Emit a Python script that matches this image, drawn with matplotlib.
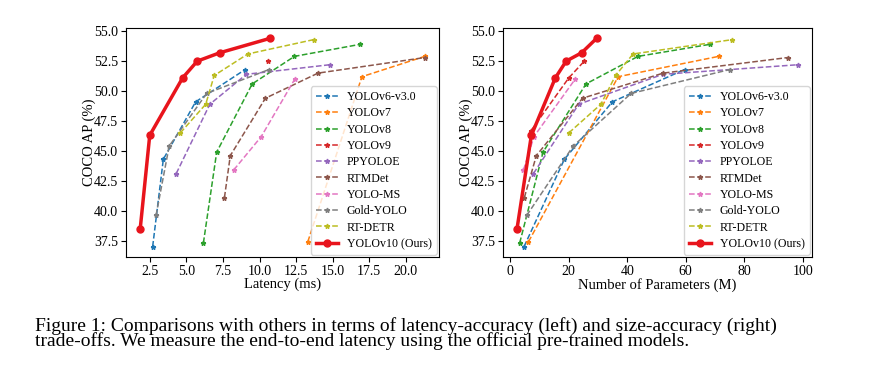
"""
YOLOv10 comparison figure: latency-accuracy and size-accuracy trade-offs.
"""
import matplotlib
matplotlib.use("Agg")
import matplotlib.pyplot as plt

plt.rcParams['font.family'] = ['Liberation Serif', 'DejaVu Serif']

# model names in legend order
MODELS = ['YOLOv6-v3.0', 'YOLOv7', 'YOLOv8', 'YOLOv9', 'PPYOLOE',
          'RTMDet', 'YOLO-MS', 'Gold-YOLO', 'RT-DETR', 'YOLOv10 (Ours)']

# COCO AP (%) per model scale
AP = {
    'YOLOv6-v3.0': [37.0, 44.3, 49.1, 51.8],
    'YOLOv7': [37.4, 51.2, 52.9],
    'YOLOv8': [37.3, 44.9, 50.6, 52.9, 53.9],
    'YOLOv9': [46.7, 51.1, 52.5],
    'PPYOLOE': [43.1, 48.9, 51.4, 52.2],
    'RTMDet': [41.1, 44.6, 49.4, 51.5, 52.8],
    'YOLO-MS': [43.4, 46.2, 51.0],
    'Gold-YOLO': [39.6, 45.4, 49.8, 51.8],
    'RT-DETR': [46.5, 48.9, 51.3, 53.1, 54.3],
    'YOLOv10 (Ours)': [38.5, 46.3, 51.1, 52.5, 53.2, 54.4],
}

# end-to-end latency (ms); YOLOv9 only has the C model in the left plot
LATENCY = {
    'YOLOv6-v3.0': [2.69, 3.42, 5.63, 9.02],
    'YOLOv7': [13.3, 17.0, 21.3],
    'YOLOv8': [6.16, 7.07, 9.50, 12.39, 16.86],
    'YOLOv9': [10.57],
    'PPYOLOE': [4.3, 6.6, 9.1, 14.8],
    'RTMDet': [7.6, 8.0, 10.4, 14.0, 21.3],
    'YOLO-MS': [8.23, 10.12, 12.41],
    'Gold-YOLO': [2.92, 3.82, 6.38, 10.65],
    'RT-DETR': [4.58, 6.32, 6.90, 9.20, 13.71],
    'YOLOv10 (Ours)': [1.84, 2.49, 4.74, 5.74, 7.28, 10.70],
}
LATENCY_AP_YOLOV9 = [52.5]

# number of parameters (M)
PARAMS = {
    'YOLOv6-v3.0': [4.7, 18.5, 34.9, 59.6],
    'YOLOv7': [6.2, 36.9, 71.3],
    'YOLOv8': [3.2, 11.2, 25.9, 43.7, 68.2],
    'YOLOv9': [7.1, 20.0, 25.3],
    'PPYOLOE': [7.9, 23.4, 52.2, 98.4],
    'RTMDet': [4.8, 8.9, 24.7, 52.3, 94.9],
    'YOLO-MS': [4.5, 8.1, 22.2],
    'Gold-YOLO': [5.6, 21.5, 41.3, 75.1],
    'RT-DETR': [20.0, 31.0, 36.0, 42.0, 76.0],
    'YOLOv10 (Ours)': [2.3, 7.2, 15.4, 19.1, 24.4, 29.5],
}

COLORS = ['tab:blue', 'tab:orange', 'tab:green', 'tab:red', 'tab:purple',
          'tab:brown', 'tab:pink', 'tab:gray', 'tab:olive', '#e8141c']

CAPTION = ("Figure 1: Comparisons with others in terms of latency-accuracy "
           "(left) and size-accuracy (right)\n"
           "trade-offs. We measure the end-to-end latency using the official "
           "pre-trained models.")

W, H = 891, 374


def draw_panel(ax, xdata, xlabel):
    for name, color in zip(MODELS, COLORS):
        xs = xdata[name]
        ys = AP[name]
        if name == 'YOLOv9' and len(xs) == 1:
            ys = LATENCY_AP_YOLOV9
        if name.startswith('YOLOv10'):
            ax.plot(xs, ys, color=color, marker='o', markersize=5,
                    linewidth=2.5, label=name, zorder=5)
        else:
            ax.plot(xs, ys, color=color, marker='*', markersize=3.5,
                    linestyle='--', linewidth=1.1, label=name)
    ax.set_xlabel(xlabel, fontsize=10.5, labelpad=0)
    ax.set_ylabel('COCO AP (%)', fontsize=10.5, labelpad=-1.5)
    ax.tick_params(labelsize=10, length=3.5, pad=2)
    ax.legend(loc='lower right', fontsize=8.6, handlelength=1.9,
              labelspacing=0.36, borderpad=0.4, handletextpad=0.7,
              borderaxespad=0.2)


fig = plt.figure(figsize=(W / 100, H / 100), dpi=100)
ax1 = fig.add_axes([126 / W, 1 - 257 / H, (439 - 126) / W, (257 - 28) / H])
ax2 = fig.add_axes([503 / W, 1 - 257 / H, (812 - 503) / W, (257 - 28) / H])

draw_panel(ax1, LATENCY, 'Latency (ms)')
draw_panel(ax2, PARAMS, 'Number of Parameters (M)')
ax1.set_xticks([2.5, 5.0, 7.5, 10.0, 12.5, 15.0, 17.5, 20.0])
ax2.set_xticks([0, 20, 40, 60, 80, 100])

fig.text(35 / W, 1 - 317 / H, CAPTION, fontsize=14, ha='left',
         va='top', linespacing=0.8)

fig.savefig('out.png', dpi=100)
